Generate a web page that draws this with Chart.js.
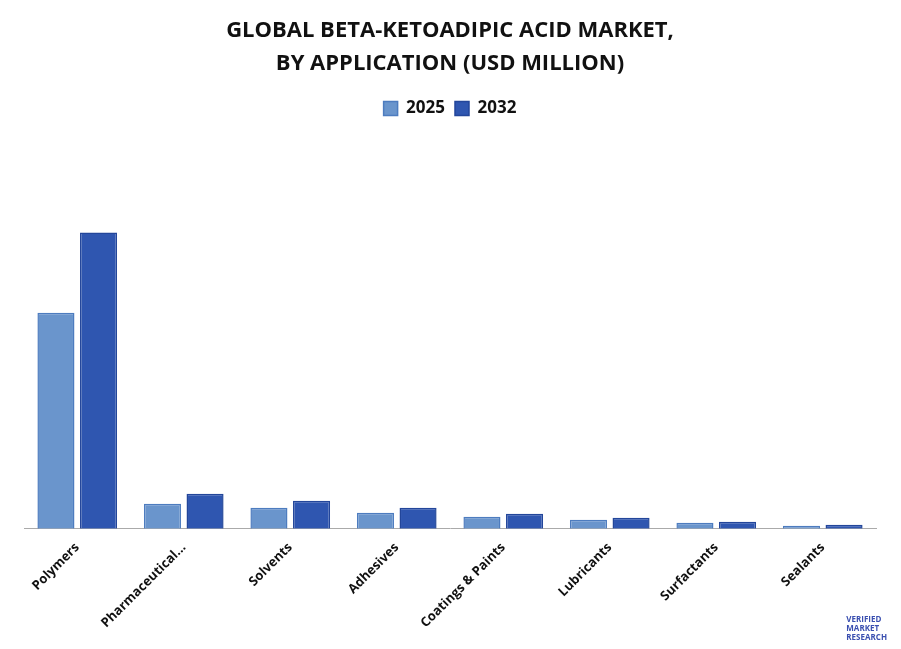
<!DOCTYPE html>
<html>
<head>
<meta charset="utf-8">
<script src="https://cdn.jsdelivr.net/npm/chart.js@4"></script>
<style>
  body { margin: 0; background: #fff; }
  #wrap { position: relative; width: 901px; height: 649px; }
  #logo { position: absolute; right: 14px; bottom: 8px; font: bold 8px "Open Sans", sans-serif; color: #3a4fb0; line-height: 9px; }
</style>
</head>
<body>
<div id="wrap">
  <canvas id="marketChart" width="901" height="649"></canvas>
  <div id="logo">VERIFIED<br>MARKET<br>RESEARCH</div>
</div>
<script>
const categories = ["Polymers", "Pharmaceutical...", "Solvents", "Adhesives", "Coatings & Paints", "Lubricants", "Surfactants", "Sealants"];
const values2025 = [215, 25, 21, 16, 12, 9, 6, 3];
const values2032 = [295, 35, 28, 21, 15, 11, 7, 4];

const ctx = document.getElementById("marketChart").getContext("2d");

new Chart(ctx, {
  type: "bar",
  data: {
    labels: categories,
    datasets: [
      {
        label: "2025",
        data: values2025,
        backgroundColor: "#6a95cc",
        borderColor: "#4d7cbf",
        borderWidth: 1.5,
        barPercentage: 0.87,
        categoryPercentage: 0.8
      },
      {
        label: "2032",
        data: values2032,
        backgroundColor: "#2f56b0",
        borderColor: "#23469a",
        borderWidth: 1.5,
        barPercentage: 0.87,
        categoryPercentage: 0.8
      }
    ]
  },
  options: {
    responsive: false,
    animation: false,
    layout: { padding: { left: 24, right: 25, top: 14, bottom: 15 } },
    plugins: {
      title: {
        display: true,
        text: ["GLOBAL BETA-KETOADIPIC ACID MARKET,", "BY APPLICATION (USD MILLION)"],
        color: "#111",
        font: { family: "Open Sans", size: 22, weight: "bold", lineHeight: 1.5 },
        padding: { top: 0, bottom: 10 }
      },
      legend: {
        labels: {
          color: "#111",
          boxWidth: 14,
          boxHeight: 14,
          font: { family: "Open Sans", size: 17, weight: "bold" }
        }
      },
      tooltip: { enabled: false }
    },
    scales: {
      x: {
        grid: { display: false },
        border: { color: "#aaa" },
        ticks: {
          color: "#111",
          maxRotation: 45,
          minRotation: 45,
          font: { family: "Open Sans", size: 13, weight: "bold" }
        }
      },
      y: {
        display: false,
        min: 0,
        max: 400
      }
    }
  }
});
</script>
</body>
</html>
